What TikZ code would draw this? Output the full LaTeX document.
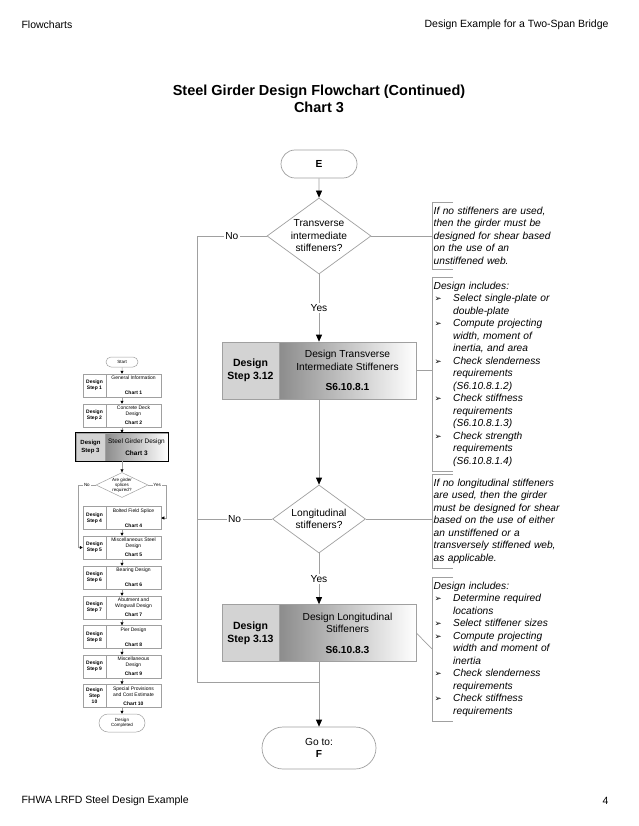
\documentclass[tikz,border=0pt]{standalone}
\usepackage{fontspec}
\setmainfont{Liberation Sans}
\newfontfamily\symfont{DejaVu Sans}
\usetikzlibrary{shapes.geometric,shapes.misc,arrows.meta}

\definecolor{linegray}{HTML}{A0A0A0}
\definecolor{labelgray}{HTML}{D3D3D3}
\definecolor{shadegray}{HTML}{8C8C8C}

\newcommand{\pointer}{\makebox[19.5pt][l]{\hspace{1pt}{\symfont\upshape\fontsize{8.5}{8}\selectfont ➢}}}
\newcommand{\noteitem}[1]{\par\noindent\hangindent=19.5pt\hangafter=1\pointer#1\par}
\newcommand{\chartcell}[2]{\parbox[c][19pt][s]{54pt}{\centering #1\par\vfill\textbf{#2}}}

\begin{document}
\begin{tikzpicture}[x=1pt,y=-1pt,
    font=\fontsize{10.2}{12.5}\selectfont,
    term/.style ={rounded rectangle, draw=linegray, line width=0.7pt,
      align=center, inner sep=0pt},
    decision/.style ={diamond, draw=linegray, line width=0.7pt,
      aspect=1.37, inner sep=0pt, align=center},
    step_label/.style ={rectangle, draw=linegray, line width=0.7pt, fill=labelgray,
      minimum width=57pt, minimum height=57pt, inner sep=0pt, align=center,
      font=\bfseries\fontsize{10.5}{12.8}\selectfont},
    step_text/.style ={rectangle, draw=linegray, line width=0.7pt,
      left color=shadegray, right color=white,
      minimum width=137pt, minimum height=57pt, inner sep=0pt, align=center},
    note/.style ={anchor=north west, text width=140pt, align=left,
      inner xsep=1.5pt, inner ysep=4.5pt,
      font=\itshape\fontsize{10.2}{12.5}\selectfont},
    bracket/.style ={draw=linegray, line width=0.7pt},
    tag/.style ={fill=white, inner sep=1.5pt},
    line/.style ={draw=linegray, line width=0.7pt},
    arr/.style ={-{Triangle[length=7pt,width=6pt,color=black]}},
    % small overview chart
    mini_term/.style ={rounded rectangle, draw=linegray, line width=0.5pt,
      align=center, inner sep=0pt, font=\fontsize{4.5}{5.4}\selectfont},
    mini_label/.style ={rectangle, draw=linegray, line width=0.5pt, fill=white,
      minimum width=23pt, minimum height=23pt, inner sep=0pt, align=center,
      font=\bfseries\fontsize{5}{6}\selectfont},
    mini_text/.style ={rectangle, draw=linegray, line width=0.5pt, fill=white,
      minimum width=55pt, minimum height=23pt, inner sep=0pt,
      font=\fontsize{5}{6}\selectfont},
    mini_tag/.style ={fill=white, inner sep=0.8pt, font=\fontsize{4.5}{5.4}\selectfont},
    mini_line/.style ={draw=linegray, line width=0.5pt},
    mini_arr/.style ={-{Triangle[length=3pt,width=3pt,color=black]}}]

    \fill[white] (0,0) rectangle (638,826);
    \useasboundingbox (0,0) rectangle (638,826);

    % page header and footer
    \node[anchor=west, font=\fontsize{10.5}{12.5}\selectfont] (head_left) at (18,25) {Flowcharts};
    \node[anchor=east, font=\fontsize{10.5}{12.5}\selectfont] (head_right) at (612,25) {Design Example for a Two-Span Bridge};
    \node[align=center, font=\bfseries\fontsize{14.5}{17.5}\selectfont] (title) at (319,99) {Steel Girder Design Flowchart (Continued)\\Chart 3};
    \node[anchor=west, font=\fontsize{10.5}{12.5}\selectfont] (foot_left) at (18,801) {FHWA LRFD Steel Design Example};
    \node[anchor=east, font=\fontsize{10.5}{12.5}\selectfont] (foot_right) at (612,801) {4};

    % chart 3 - entry
    \node[term, minimum width=76pt, minimum height=28pt, font=\bfseries\fontsize{10.2}{12.5}\selectfont] (e) at (319,164) {E};
    % chart 3 - transverse stiffeners
    \node[decision, minimum width=104pt, minimum height=76pt] (trans) at (319,236) {Transverse\\intermediate\\stiffeners?};
    \node[step_label] (s312) at (250.5,370.5) {Design\\Step 3.12};
    \node[step_text] (t312) at (347.5,370.5) {Design Transverse\\Intermediate Stiffeners\\[8pt]\textbf{S6.10.8.1}};
    % chart 3 - longitudinal stiffeners
    \node[decision, minimum width=93pt, minimum height=68pt] (longi) at (319,519) {Longitudinal\\stiffeners?};
    \node[step_label] (s313) at (250.5,633) {Design\\Step 3.13};
    \node[step_text] (t313) at (347.5,633) {Design Longitudinal\\Stiffeners\\[8pt]\textbf{S6.10.8.3}};
    % chart 3 - exit
    \node[term, minimum width=114pt, minimum height=42pt] (goto) at (319,748) {Go to:\\\textbf{F}};
    \coordinate (nojoin) at (197,682);

    % side notes
    \node[note] (note_trans) at (432,202) {If no stiffeners are used,\\then the girder must be\\designed for shear based\\on the use of an\\unstiffened web.};
    \node[note] (note_t312) at (432,277) {Design includes:
      \noteitem{Select single-plate or\newline double-plate}
      \noteitem{Compute projecting\newline width, moment of\newline inertia, and area}
      \noteitem{Check slenderness\newline requirements\newline (S6.10.8.1.2)}
      \noteitem{Check stiffness\newline requirements\newline (S6.10.8.1.3)}
      \noteitem{Check strength\newline requirements\newline (S6.10.8.1.4)}};
    \node[note] (note_longi) at (432,474) {If no longitudinal stiffeners\\are used, then the girder\\must be designed for shear\\based on the use of either\\an unstiffened or a\\transversely stiffened web,\\as applicable.};
    \node[note] (note_t313) at (432,577) {Design includes:
      \noteitem{Determine required\newline locations}
      \noteitem{Select stiffener sizes}
      \noteitem{Compute projecting\newline width and moment of\newline inertia}
      \noteitem{Check slenderness\newline requirements}
      \noteitem{Check stiffness\newline requirements}};

    % connecting nodes with paths
    \begin{scope}[every path/.style=line]
     \path[arr] (e) -- (trans);
     \path[arr] (trans.south) -- node[tag] {Yes} (trans.south |- t312.north);
     \path (trans.west) -- node[tag] {No} (trans.west -| nojoin) -- (nojoin) -- (nojoin -| goto);
     \path[arr] (t312.south -| longi) -- (longi.north);
     \path[arr] (longi.south) -- node[tag] {Yes} (longi.south |- t313.north);
     \path (longi.west) -- node[tag] {No} (longi.west -| nojoin);
     \path[arr] (t313.south -| goto) -- (goto.north);
     \path (trans.east) -- (trans.east -| note_trans.west);
     \path (t312.east) -- (t312.east -| note_t312.west);
     \path (longi.east) -- (longi.east -| note_longi.west);
     \path (t313.east) -- (note_t313.west);
    \end{scope}
    \begin{scope}[every path/.style=bracket]
     \path ([xshift=21pt]note_trans.north west) -- (note_trans.north west) -- (note_trans.south west) -- ([xshift=21pt]note_trans.south west);
     \path ([xshift=21pt]note_t312.north west) -- (note_t312.north west) -- (note_t312.south west) -- ([xshift=21pt]note_t312.south west);
     \path ([xshift=21pt]note_longi.north west) -- (note_longi.north west) -- (note_longi.south west) -- ([xshift=21pt]note_longi.south west);
     \path ([xshift=21pt]note_t313.north west) -- (note_t313.north west) -- (note_t313.south west) -- ([xshift=21pt]note_t313.south west);
    \end{scope}

    % overview chart - start
    \node[mini_term, minimum width=32pt, minimum height=10pt] (mstart) at (122,362) {Start};
    % overview chart - steps 1 to 3
    \node[mini_label] (l1) at (94.5,385.5) {Design\\Step 1};
    \node[mini_text] (t1) at (133.5,385.5) {\chartcell{General Information}{Chart 1}};
    \node[mini_label] (l2) at (94.5,415.5) {Design\\Step 2};
    \node[mini_text] (t2) at (133.5,415.5) {\chartcell{Concrete Deck\\Design}{Chart 2}};
    \node[mini_label, fill=labelgray, minimum width=29pt, minimum height=28pt,
      font=\bfseries\fontsize{6}{7.2}\selectfont] (l3) at (90.5,447) {Design\\Step 3};
    \node[mini_text, left color=shadegray, right color=white, minimum width=63pt, minimum height=28pt,
      font=\fontsize{6.5}{7.8}\selectfont] (t3) at (136.5,447) {\parbox[c][17pt][s]{62pt}{\centering Steel Girder Design\par\vfill\textbf{Chart 3}}};
    \draw[line width=1.4pt] (l3.north west) rectangle (t3.south east);
    % overview chart - splice decision
    \node[diamond, draw=linegray, line width=0.5pt, aspect=2, inner sep=0pt,
      minimum width=52pt, minimum height=25pt, align=center,
      font=\fontsize{4.5}{5}\selectfont] (msplice) at (122,485) {Are girder\\splices\\required?};
    \coordinate (mnoside) at (78,485);
    \coordinate (myesside) at (166,485);
    % overview chart - steps 4 to 10
    \node[mini_label] (l4) at (94.5,518) {Design\\Step 4};
    \node[mini_text] (t4) at (133.5,518) {\chartcell{Bolted Field Splice}{Chart 4}};
    \node[mini_label] (l5) at (94.5,547.5) {Design\\Step 5};
    \node[mini_text] (t5) at (133.5,547.5) {\chartcell{Miscellaneous Steel\\Design}{Chart 5}};
    \node[mini_label] (l6) at (94.5,577.5) {Design\\Step 6};
    \node[mini_text] (t6) at (133.5,577.5) {\chartcell{Bearing Design}{Chart 6}};
    \node[mini_label] (l7) at (94.5,607.5) {Design\\Step 7};
    \node[mini_text] (t7) at (133.5,607.5) {\chartcell{Abutment and\\Wingwall Design}{Chart 7}};
    \node[mini_label] (l8) at (94.5,637) {Design\\Step 8};
    \node[mini_text] (t8) at (133.5,637) {\chartcell{Pier Design}{Chart 8}};
    \node[mini_label] (l9) at (94.5,666.5) {Design\\Step 9};
    \node[mini_text] (t9) at (133.5,666.5) {\chartcell{Miscellaneous\\Design}{Chart 9}};
    \node[mini_label] (l10) at (94.5,696) {Design\\Step\\10};
    \node[mini_text] (t10) at (133.5,696) {\chartcell{Special Provisions\\and Cost Estimate}{Chart 10}};
    % overview chart - end
    \node[mini_term, minimum width=46pt, minimum height=18pt] (mend) at (122,723) {Design\\Completed};

    \begin{scope}[every path/.style=mini_line]
     \path[mini_arr] (mstart) -- (mstart |- t1.north);
     \path[mini_arr] (t1.south -| mstart) -- (t2.north -| mstart);
     \path[mini_arr] (t2.south -| mstart) -- (t3.north -| mstart);
     \path[mini_arr] (t3.south -| mstart) -- (msplice.north);
     \path[mini_arr] (msplice.west) -- node[mini_tag] {No} (mnoside) |- (l5.west);
     \path[mini_arr] (msplice.east) -- node[mini_tag] {Yes} (myesside) |- (t4.east);
     \path[mini_arr] (t4.south -| mstart) -- (t5.north -| mstart);
     \path[mini_arr] (t5.south -| mstart) -- (t6.north -| mstart);
     \path[mini_arr] (t6.south -| mstart) -- (t7.north -| mstart);
     \path[mini_arr] (t7.south -| mstart) -- (t8.north -| mstart);
     \path[mini_arr] (t8.south -| mstart) -- (t9.north -| mstart);
     \path[mini_arr] (t9.south -| mstart) -- (t10.north -| mstart);
     \path[mini_arr] (t10.south -| mstart) -- (mend.north);
    \end{scope}
\end{tikzpicture}
\end{document}
